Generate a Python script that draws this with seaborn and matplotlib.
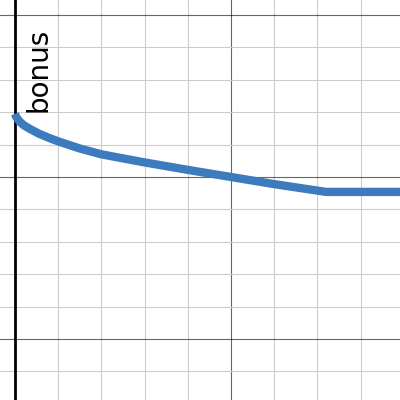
import numpy as np
import pandas as pd
import matplotlib
matplotlib.use("Agg")
import matplotlib.pyplot as plt
import seaborn as sns

# curve (x in minor grid units, y in minor grid units)
xs = [0.0, 0.03, 0.1, 0.2, 0.35, 0.55, 0.8, 1.0, 1.5, 2.0, 3.0, 4.0, 5.0, 6.0, 7.0, 7.2, 8.0, 9.0]
ys = [1.95, 1.85, 1.72, 1.6, 1.48, 1.34, 1.2, 1.1, 0.88, 0.7, 0.45, 0.22, 0.0, -0.22, -0.42, -0.46, -0.46, -0.46]
label = "bonus"

df = pd.DataFrame({"x": xs, "y": ys})

fig = plt.figure(figsize=(4, 4), dpi=100)
ax = fig.add_axes([0, 0, 1, 1])
ax.set_xlim(-15 / 43.2, 385 / 43.2)
ax.set_ylim(-223 / 32.4, 177 / 32.4)

# grid
for gx in np.arange(1, 10):
    ax.axvline(gx, color="#000000" if gx % 5 == 0 else "#cccccc",
               lw=0.8, alpha=0.6 if gx % 5 == 0 else 1, zorder=0)
for gy in np.arange(-7, 6):
    ax.axhline(gy, color="#000000" if gy % 5 == 0 else "#cccccc",
               lw=0.8, alpha=0.6 if gy % 5 == 0 else 1, zorder=0)
ax.axvline(0, color="black", lw=2, zorder=1)

sns.lineplot(data=df, x="x", y="y", ax=ax, color="#3d7bbf", lw=6,
             solid_capstyle="butt", zorder=3)

ax.text(0.22, 4.6, label, rotation=90, fontsize=20, va="top", ha="left",
        color="black")

ax.set_axis_off()
fig.savefig("out.png", dpi=100)
